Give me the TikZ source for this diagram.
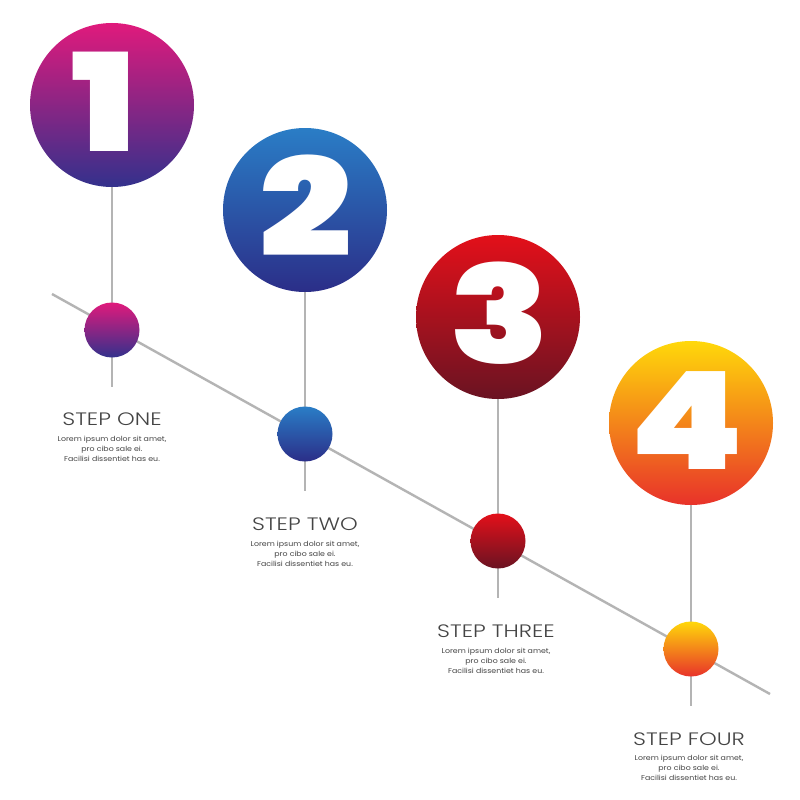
\documentclass[tikz,border=0pt]{standalone}
\usepackage{fontspec}
\setmainfont{Poppins}
\IfFontExistsTF{Poppins Light}{\newfontfamily\titlefont{Poppins Light}[FakeStretch=1.25]}{\newfontfamily\titlefont{Poppins}[FakeStretch=1.25]}
\newfontfamily\descfont{Poppins}[FakeStretch=1.12]
\IfFontExistsTF{Poppins Black}{\newfontfamily\digitfont{Poppins Black}[FakeStretch=1.2]}{\newfontfamily\digitfont{Poppins}[FakeStretch=1.2]}
\definecolor{lineg}{HTML}{B4B4B4}
\definecolor{txtg}{HTML}{444444}
\definecolor{ptop}{HTML}{E01A7C}\definecolor{pbot}{HTML}{33318C}
\definecolor{btop}{HTML}{2A7DC6}\definecolor{bbot}{HTML}{2B2E88}
\definecolor{rtop}{HTML}{E3101A}\definecolor{rbot}{HTML}{6A1322}
\definecolor{ytop}{HTML}{FFD80A}\definecolor{ybot}{HTML}{E8322A}
\tikzset{
  big/.style={circle, minimum size=164pt, inner sep=0pt},
  small/.style={circle, minimum size=55pt, inner sep=0pt},
  pinkball/.style={top color=ptop, bottom color=pbot},
  blueball/.style={top color=btop, bottom color=bbot},
  redball/.style={top color=rtop, bottom color=rbot},
  yellowball/.style={top color=ytop, middle color=ytop!50!ybot, bottom color=ybot},
  conn/.style={draw=lineg, line width=2.4pt},
  digit/.style={text=white, font=\digitfont\fontsize{136}{136}\selectfont},
  steptitle/.style={text=txtg, font=\titlefont\fontsize{18}{20}\selectfont},
  stepdesc/.style={text=txtg, align=center, font=\descfont\fontsize{7}{10}\selectfont},
}
\begin{document}
\begin{tikzpicture}[x=1pt,y=-1pt]
\useasboundingbox[fill=white] (0,0) rectangle (800,800);
% coordinates
\coordinate (dstart) at (52,294);
\coordinate (dend) at (770,694);
\coordinate (e1) at (112,387);
\coordinate (e2) at (305,491);
\coordinate (e3) at (498,598);
\coordinate (e4) at (691,706);
% diagonal
\draw[conn] (dstart) -- (dend);
% big circles
\node[big, pinkball] (b1) at (112,105) {};
\node[big, blueball] (b2) at (305,210) {};
\node[big, redball] (b3) at (498,317) {};
\node[big, yellowball] (b4) at (691,423) {};
% verticals
\draw[conn] (b1.south) -- (e1);
\draw[conn] (b2.south) -- (e2);
\draw[conn] (b3.south) -- (e3);
\draw[conn] (b4.south) -- (e4);
% small circles
\node[small, pinkball] (s1) at (112,330) {};
\node[small, blueball] (s2) at (305,434) {};
\node[small, redball] (s3) at (498,541) {};
\node[small, yellowball] (s4) at (691,649) {};
% digits
\node[digit] (d1) at (104,102) {1};
\node[digit] (d2) at (306,206) {2};
\node[digit] (d3) at (500,313) {3};
\node[digit] (d4) at (687,421) {4};
% texts
\node[steptitle] (t1) at (112,419) {STEP ONE};
\node[stepdesc] (p1) at (112,449) {Lorem ipsum dolor sit amet,\\pro cibo sale ei.\\Facilisi dissentiet has eu.};
\node[steptitle] (t2) at (305,524) {STEP TWO};
\node[stepdesc] (p2) at (305,554) {Lorem ipsum dolor sit amet,\\pro cibo sale ei.\\Facilisi dissentiet has eu.};
\node[steptitle] (t3) at (496,631) {STEP THREE};
\node[stepdesc] (p3) at (496,661) {Lorem ipsum dolor sit amet,\\pro cibo sale ei.\\Facilisi dissentiet has eu.};
\node[steptitle] (t4) at (689,739) {STEP FOUR};
\node[stepdesc] (p4) at (689,768) {Lorem ipsum dolor sit amet,\\pro cibo sale ei.\\Facilisi dissentiet has eu.};
\end{tikzpicture}
\end{document}
